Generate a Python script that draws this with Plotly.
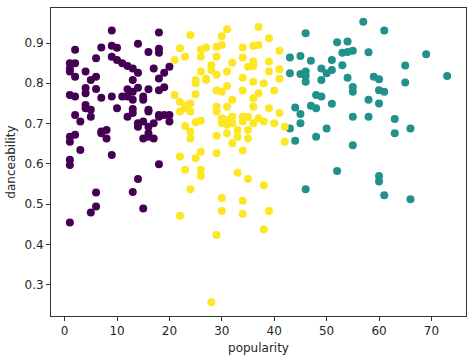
import plotly.graph_objects as go

# Cluster 0 (purple)
c0_pop = [9, 18, 2, 7, 9, 10, 14, 16, 18, 18, 6, 9, 10, 1, 2, 1, 1, 2, 4, 11, 12, 13, 17, 20, 19, 14,
          6, 5, 13, 18, 4, 4, 6, 1, 2, 7, 9, 11, 12, 12, 13, 14, 15, 16, 18, 19, 13, 15, 4, 4, 5, 10,
          13, 16, 2, 18, 19, 20, 3, 5, 12, 13, 16, 14, 14, 15, 17, 16, 16, 18, 20, 1, 2, 1, 7, 8, 7,
          8, 15, 16, 17, 3, 9, 1, 1, 18, 14, 6, 13, 6, 5, 15, 1]
c0_dance = [0.931, 0.926, 0.883, 0.889, 0.893, 0.888, 0.898, 0.878, 0.886, 0.876, 0.862, 0.866, 0.858,
            0.850, 0.850, 0.837, 0.829, 0.816, 0.829, 0.850, 0.843, 0.837, 0.837, 0.841, 0.826, 0.826,
            0.816, 0.808, 0.808, 0.812, 0.788, 0.775, 0.786, 0.771, 0.767, 0.764, 0.767, 0.767, 0.767,
            0.785, 0.779, 0.789, 0.767, 0.785, 0.783, 0.790, 0.759, 0.759, 0.738, 0.746, 0.734, 0.738,
            0.736, 0.734, 0.721, 0.721, 0.721, 0.721, 0.705, 0.717, 0.717, 0.726, 0.730, 0.701, 0.692,
            0.705, 0.701, 0.692, 0.676, 0.717, 0.705, 0.667, 0.672, 0.655, 0.680, 0.684, 0.676, 0.663,
            0.663, 0.667, 0.663, 0.634, 0.622, 0.610, 0.597, 0.599, 0.562, 0.529, 0.530, 0.494, 0.479,
            0.489, 0.454]

# Cluster 1 (teal)
c1_pop = [57, 46, 61, 52, 54, 53, 54, 55, 58, 69, 43, 45, 47, 51, 53, 65, 43, 45, 46, 46, 46, 49, 51,
          50, 49, 54, 59, 60, 65, 73, 55, 55, 60, 61, 48, 49, 58, 60, 51, 44, 45, 47, 48, 55, 58, 63,
          45, 43, 44, 48, 50, 55, 63, 66, 52, 60, 60, 46, 61, 66]
c1_dance = [0.953, 0.924, 0.931, 0.902, 0.904, 0.876, 0.878, 0.881, 0.877, 0.872, 0.864, 0.868, 0.856,
            0.858, 0.845, 0.844, 0.825, 0.823, 0.829, 0.818, 0.804, 0.837, 0.833, 0.825, 0.808, 0.814,
            0.816, 0.810, 0.802, 0.818, 0.791, 0.779, 0.783, 0.779, 0.771, 0.767, 0.759, 0.750, 0.749,
            0.740, 0.724, 0.744, 0.738, 0.717, 0.717, 0.711, 0.701, 0.688, 0.657, 0.667, 0.688, 0.646,
            0.676, 0.688, 0.582, 0.570, 0.556, 0.537, 0.522, 0.512]

# Cluster 2 (yellow)
c2_pop = [24, 31, 30, 37, 39, 22, 23, 21, 26, 27, 26, 29, 30, 29, 34, 36, 37, 41, 32, 34, 36, 36, 35,
          28, 28, 31, 39, 39, 41, 41, 26, 27, 25, 25, 27, 29, 34, 36, 38, 25, 29, 30, 31, 34, 40, 21,
          22, 23, 24, 32, 31, 29, 29, 36, 36, 39, 41, 22, 24, 23, 30, 31, 32, 32, 30, 31, 34, 35, 34,
          36, 37, 38, 40, 42, 42, 23, 24, 24, 25, 26, 29, 31, 33, 33, 35, 35, 32, 34, 29, 22, 25, 26,
          23, 26, 26, 33, 35, 38, 24, 30, 34, 30, 34, 39, 22, 38, 29, 28, 37]
c2_dance = [0.920, 0.934, 0.917, 0.940, 0.912, 0.887, 0.866, 0.858, 0.884, 0.889, 0.866, 0.891, 0.895,
            0.866, 0.889, 0.893, 0.895, 0.881, 0.851, 0.864, 0.854, 0.843, 0.841, 0.845, 0.833, 0.829,
            0.854, 0.829, 0.835, 0.811, 0.829, 0.812, 0.808, 0.800, 0.808, 0.821, 0.814, 0.804, 0.800,
            0.773, 0.782, 0.779, 0.793, 0.782, 0.782, 0.771, 0.754, 0.744, 0.750, 0.759, 0.742, 0.742,
            0.730, 0.763, 0.742, 0.738, 0.726, 0.730, 0.730, 0.738, 0.713, 0.709, 0.717, 0.701, 0.701,
            0.697, 0.717, 0.717, 0.705, 0.701, 0.713, 0.705, 0.701, 0.692, 0.655, 0.694, 0.680, 0.663,
            0.703, 0.707, 0.670, 0.676, 0.684, 0.667, 0.684, 0.663, 0.651, 0.633, 0.626, 0.618, 0.614,
            0.630, 0.585, 0.585, 0.570, 0.578, 0.562, 0.547, 0.537, 0.515, 0.508, 0.483, 0.476, 0.483,
            0.471, 0.437, 0.423, 0.256, 0.775]

x_ticks = [0, 10, 20, 30, 40, 50, 60, 70]
y_ticks = [0.3, 0.4, 0.5, 0.6, 0.7, 0.8, 0.9]
y_tick_text = ["0.3", "0.4", "0.5", "0.6", "0.7", "0.8", "0.9"]

colors = ["#440154", "#21918c", "#fde725"]

fig = go.Figure()
for xs, ys, col in [(c0_pop, c0_dance, colors[0]), (c1_pop, c1_dance, colors[1]), (c2_pop, c2_dance, colors[2])]:
    fig.add_trace(go.Scatter(x=xs, y=ys, mode="markers",
                             marker=dict(size=8, color=col, line=dict(width=0)),
                             showlegend=False, hoverinfo="x+y"))

axis_common = dict(showgrid=False, zeroline=False, showline=True, mirror=True,
                   linecolor="#333333", linewidth=1, ticks="outside", ticklen=4,
                   tickcolor="#333333", tickfont=dict(family="DejaVu Sans", size=12, color="#262626"))

fig.update_layout(
    width=474, height=361,
    margin=dict(l=51, r=8, t=8, b=45),
    paper_bgcolor="white", plot_bgcolor="white",
    font=dict(family="DejaVu Sans", size=12, color="#262626"),
    xaxis=dict(range=[-2.6, 76.6], tickvals=x_ticks,
               title=dict(text="popularity", standoff=6, font=dict(size=12)), **axis_common),
    yaxis=dict(range=[0.222, 0.987], tickvals=y_ticks, ticktext=y_tick_text,
               title=dict(text="danceability", standoff=6, font=dict(size=12)), **axis_common),
)

fig.write_html("out.html", config={"displayModeBar": False},
               post_script="document.body.style.margin='0';document.body.style.overflow='hidden';")
